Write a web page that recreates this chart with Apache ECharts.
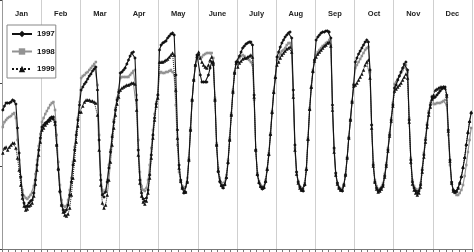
<!DOCTYPE html>
<html>
<head>
<meta charset="utf-8">
<script src="https://cdn.jsdelivr.net/npm/echarts@6/dist/echarts.min.js"></script>
<style>
html,body{margin:0;padding:0;background:#fff;}
#c{width:474px;height:252px;}
</style>
</head>
<body>
<div id="c"></div>
<script>
var months = ['Jan','Feb','Mar','Apr','May','June','July','Aug','Sep','Oct','Nov','Dec'];
var hoursPerMonth = 24;
var yearNames = ['1997','1998','1999'];

// hourly diurnal values per month (24 per month)
var y1997 = [
139,143,146,146,146,147,149,148,145,121,96,72,54,46,42,43,46,48,49,56,69,84,99,111,
122,124,126,127,129,131,132,132,127,104,79,57,44,39,37,39,44,54,67,84,99,114,129,144,
159,162,165,167,170,173,175,178,180,182,159,109,69,54,52,57,67,81,97,112,127,139,149,157,
176,177,179,181,185,189,193,196,197,191,149,99,69,56,50,48,51,59,74,94,114,131,145,154,
199,204,206,207,208,211,213,215,216,214,174,119,84,69,61,56,57,67,89,119,149,169,184,194,
194,174,167,167,167,167,174,181,187,184,149,104,77,67,63,61,64,71,86,109,134,157,176,187,
187,193,197,201,203,205,206,207,207,204,154,99,74,66,62,60,61,67,79,94,114,136,156,171,
192,197,202,206,209,212,214,216,217,211,159,104,77,67,62,59,58,64,79,109,139,161,177,189,
209,212,214,216,217,217,218,218,217,211,144,101,76,66,61,59,58,64,74,91,111,129,147,164,
187,191,195,198,201,204,207,209,207,179,124,84,67,61,58,59,61,64,73,84,99,114,129,144,
161,164,169,173,177,181,185,187,179,129,89,67,61,58,56,58,64,79,94,109,124,136,144,152,
151,152,154,156,158,160,162,162,154,119,89,67,59,57,58,61,66,72,81,91,104,116,127,136
];
var y1998 = [
122,127,129,131,132,133,135,136,131,109,89,72,59,53,51,50,52,54,56,63,75,89,103,115,
127,131,135,138,141,144,146,147,139,114,87,64,49,43,42,43,49,59,71,87,102,117,131,147,
171,173,174,176,177,179,181,183,185,187,164,114,74,59,56,59,69,84,99,114,129,141,151,159,
171,172,172,172,172,172,174,176,178,179,154,109,77,63,59,58,61,69,84,101,119,135,147,154,
176,177,176,176,177,177,178,179,177,174,144,104,77,67,63,61,62,71,91,121,149,169,183,191,
191,191,192,194,195,196,196,196,196,191,151,106,81,71,66,64,67,74,89,111,136,159,177,187,
189,191,193,194,193,191,190,189,187,184,149,99,76,68,64,62,63,69,81,96,116,138,158,173,
189,192,195,198,199,201,204,206,206,199,154,101,77,68,63,61,60,66,81,111,141,163,179,189,
194,197,199,201,203,204,206,207,209,204,141,99,75,66,62,60,60,65,75,92,112,130,148,165,
181,184,187,190,193,196,199,201,202,177,124,86,69,63,60,60,62,66,75,86,101,116,131,146,
165,167,170,173,176,179,182,184,177,131,91,69,63,60,58,60,66,81,96,111,126,138,146,153,
145,145,146,146,146,147,148,149,144,114,84,66,59,56,54,54,56,59,64,73,84,97,109,121
];
var y1999 = [
96,101,102,99,102,104,106,106,101,91,79,64,51,43,39,40,43,44,46,53,65,79,94,107,
119,121,124,126,128,129,131,131,125,104,81,59,44,37,34,33,35,41,54,71,89,107,123,137,
137,143,147,149,149,149,148,148,147,146,134,99,64,46,41,44,54,69,87,104,121,134,145,152,
159,161,162,163,164,164,165,166,166,165,139,94,66,53,47,45,48,56,71,91,111,129,143,151,
187,187,187,188,189,190,192,194,196,194,159,111,81,68,61,57,57,67,89,119,149,169,184,193,
197,191,187,184,182,181,184,189,192,187,149,104,79,69,64,62,65,72,87,109,134,157,176,186,
182,186,188,190,191,191,192,193,194,192,152,99,75,67,63,61,62,68,80,95,115,137,157,172,
184,187,191,194,196,198,200,201,202,197,152,99,75,66,61,59,59,65,80,110,140,162,178,188,
192,195,197,199,201,203,204,206,207,203,139,97,74,65,61,59,59,64,74,91,111,129,147,163,
164,166,169,172,175,179,184,187,189,171,121,83,67,60,57,58,60,63,72,83,98,113,128,143,
158,160,162,164,166,169,172,175,171,127,87,65,59,56,54,56,62,77,92,107,122,134,142,150,
154,159,160,161,162,162,162,161,153,118,88,66,58,57,58,61,66,73,82,92,105,117,128,137
];

function pts(arr){ return arr.map(function(v,i){ return [i+0.5, v]; }); }

var total = months.length * hoursPerMonth;
var chart = echarts.init(document.getElementById('c'), null, {renderer:'canvas'});
chart.setOption({
  animation:false,
  backgroundColor:'#fff',
  grid:{left:2,right:2,top:0,bottom:3,containLabel:false},
  legend:{
    data:yearNames,
    orient:'vertical',
    left:7, top:25,
    itemWidth:20, itemHeight:8, itemGap:9.5,
    padding:[5,1,5,4],
    backgroundColor:'#fff',
    borderColor:'#888', borderWidth:1,
    textStyle:{fontFamily:'Liberation Sans, Arial, sans-serif', fontSize:8, fontWeight:'bold', color:'#111'}
  },
  xAxis:[
    {type:'value', min:0, max:total, interval:4, position:'bottom',
     axisLine:{show:true, lineStyle:{color:'#777', width:1}},
     axisTick:{show:true, length:3, inside:false, lineStyle:{color:'#777'}},
     axisLabel:{show:false}, splitLine:{show:false}},
    {type:'category', data:months, position:'top', boundaryGap:true,
     axisLine:{show:false}, axisTick:{show:false},
     axisLabel:{show:true, inside:true, margin:10, interval:0,
       fontFamily:'Liberation Sans, Arial, sans-serif', fontSize:7.5, fontWeight:'bold', color:'#222'},
     splitLine:{show:true, interval:0, lineStyle:{color:'#cfcfcf', width:1}}}
  ],
  yAxis:{type:'value', min:0, max:249, interval:83,
     axisLine:{show:true, lineStyle:{color:'#999'}},
     axisTick:{show:true, length:2, lineStyle:{color:'#444'}},
     axisLabel:{show:false}, splitLine:{show:false}},
  series:[
    {name:'1998', type:'line', xAxisIndex:0, data:pts(y1998), symbol:'rect', symbolSize:2.5, showAllSymbol:true,
     lineStyle:{color:'#939393', width:1.2}, itemStyle:{color:'#939393'}, z:2},
    {name:'1999', type:'line', xAxisIndex:0, data:pts(y1999), symbol:'triangle', symbolSize:3.5, showAllSymbol:true,
     lineStyle:{color:'#111', width:1, type:'dotted'}, itemStyle:{color:'#111'}, z:3},
    {name:'1997', type:'line', xAxisIndex:0, data:pts(y1997), symbol:'diamond', symbolSize:3.5, showAllSymbol:true,
     lineStyle:{color:'#111', width:1.1}, itemStyle:{color:'#111'}, z:4}
  ]
});
</script>
</body>
</html>
